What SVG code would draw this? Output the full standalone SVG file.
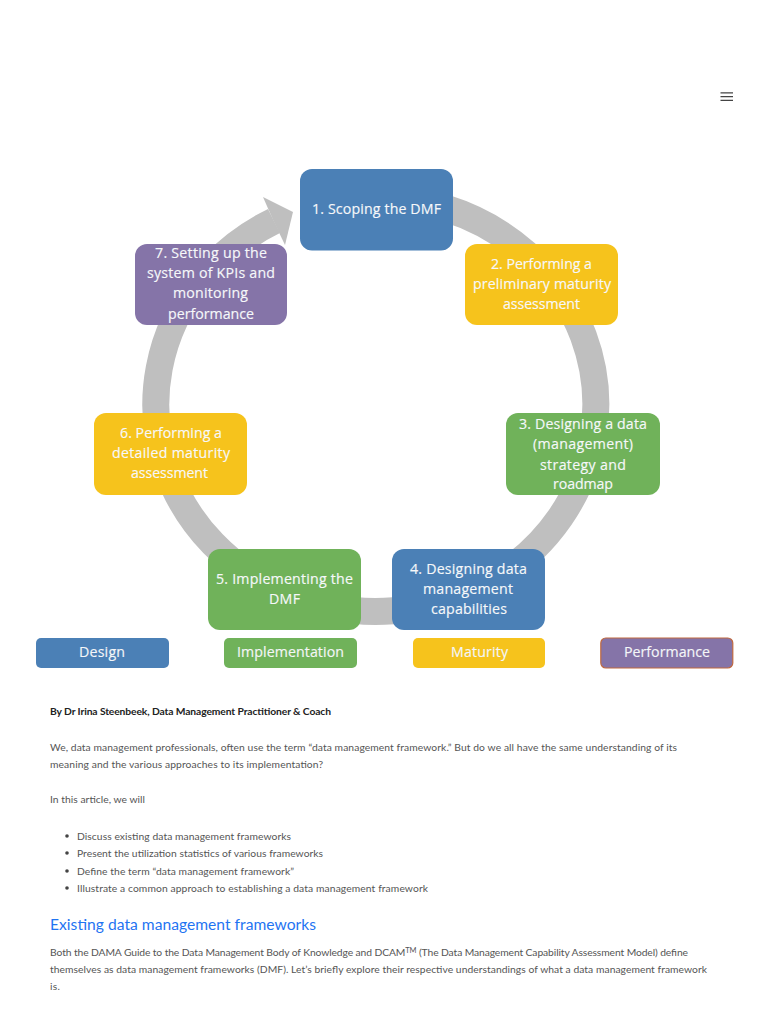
<svg xmlns="http://www.w3.org/2000/svg" width="768" height="1024" viewBox="0 0 768 1024">
<style>
.box{stroke:none}
.blue{fill:#4b80b6}
.yellow{fill:#f6c31c}
.green{fill:#70b25a}
.purple{fill:#8574a8}
.n{font-family:"Open Sans","Noto Sans",sans-serif;font-size:14.2px;fill:#f6f8fa;stroke:#f6f8fa;stroke-width:.15}
.l{font-family:"Open Sans","Noto Sans",sans-serif;font-size:14.2px;fill:#f4f6f8;stroke:#f4f6f8;stroke-width:.15}
.b{font-family:"Lato","Noto Sans",sans-serif;font-size:10.3px;fill:#555}
.s{font-family:"Lato","Noto Sans",sans-serif;font-size:10.3px;font-weight:700;fill:#222}
.h{font-family:"Lato","Noto Sans",sans-serif;font-size:15.6px;fill:#1f74f2}
.m{stroke:#444;stroke-width:1.2;fill:none}
</style>
<g id="menu"><path class="m" d="M720.500 92.800H733M720.500 96.600H733M720.500 100.400H733"/></g>
<g id="connectors">
<path d="M445 208A220 207 0 1 1 274 221" fill="none" stroke="#bfbfbf" stroke-width="27"/>
<polygon points="263,197 293,212 285,245 274,222" fill="#bfbfbf"/>
</g>
<g id="node1"><rect class="box blue" x="300" y="169" width="153" height="81.500" rx="12"/>
<text class="n" x="312" y="214" textLength="129">1. Scoping the DMF</text></g>
<g id="node2"><rect class="box yellow" x="465" y="244" width="153" height="81" rx="12"/>
<text class="n" x="491" y="269" textLength="101">2. Performing a</text>
<text class="n" x="473" y="289" textLength="138">preliminary maturity</text>
<text class="n" x="503" y="309" textLength="77">assessment</text></g>
<g id="node3"><rect class="box green" x="506" y="413" width="154" height="82" rx="12"/>
<text class="n" x="519" y="429" textLength="128">3. Designing a data</text>
<text class="n" x="533" y="449" textLength="100">(management)</text>
<text class="n" x="540" y="470" textLength="86">strategy and</text>
<text class="n" x="553" y="489" textLength="60">roadmap</text></g>
<g id="node4"><rect class="box blue" x="392" y="549" width="153" height="81" rx="12"/>
<text class="n" x="410" y="574" textLength="117">4. Designing data</text>
<text class="n" x="423" y="594" textLength="90">management</text>
<text class="n" x="431" y="614" textLength="76">capabilities</text></g>
<g id="node5"><rect class="box green" x="208" y="549" width="153" height="81" rx="12"/>
<text class="n" x="216" y="584" textLength="137">5. Implementing the</text>
<text class="n" x="269" y="604" textLength="31">DMF</text></g>
<g id="node6"><rect class="box yellow" x="94" y="413" width="153" height="82" rx="12"/>
<text class="n" x="120" y="438" textLength="102">6. Performing a</text>
<text class="n" x="112" y="458" textLength="118">detailed maturity</text>
<text class="n" x="131" y="478" textLength="77">assessment</text></g>
<g id="node7"><rect class="box purple" x="135" y="244" width="152" height="81" rx="12"/>
<text class="n" x="155" y="258" textLength="112">7. Setting up the</text>
<text class="n" x="147" y="278" textLength="128">system of KPIs and</text>
<text class="n" x="173" y="298" textLength="75">monitoring</text>
<text class="n" x="168" y="319" textLength="86">performance</text></g>
<g id="legend-design"><rect class="box blue" x="36" y="638" width="133" height="30" rx="5"/>
<text class="l" x="79" y="657" textLength="46">Design</text></g>
<g id="legend-implementation"><rect class="box green" x="224" y="638" width="133" height="30" rx="5"/>
<text class="l" x="237" y="657" textLength="107">Implementation</text></g>
<g id="legend-maturity"><rect class="box yellow" x="413" y="638" width="132" height="30" rx="5"/>
<text class="l" x="451" y="657" textLength="57">Maturity</text></g>
<g id="legend-performance"><rect class="purple" x="600.800" y="638" width="132" height="30" rx="5" stroke="#c0693f" stroke-width="1.200"/>
<text class="l" x="624" y="657" textLength="86">Performance</text></g>
<g id="article">
<text class="s" x="50" y="715" textLength="281">By Dr Irina Steenbeek, Data Management Practitioner &amp; Coach</text>
<text class="b" x="50" y="751" textLength="627">We, data management professionals, often use the term “data management framework.”  But do we all have the same understanding of its</text>
<text class="b" x="50" y="768" textLength="273">meaning and the various approaches to its implementation?</text>
<text class="b" x="50" y="803" textLength="95">In this article, we will</text>
<circle cx="67" cy="836" r="1.800" fill="#444"/><text class="b" x="77" y="840" textLength="214">Discuss existing data management frameworks</text>
<circle cx="67" cy="853" r="1.800" fill="#444"/><text class="b" x="77" y="857" textLength="246">Present the utilization statistics of various frameworks</text>
<circle cx="67" cy="871" r="1.800" fill="#444"/><text class="b" x="77" y="875" textLength="217">Define the term “data management framework”</text>
<circle cx="67" cy="888" r="1.800" fill="#444"/><text class="b" x="77" y="892" textLength="351">Illustrate a common approach to establishing a data management framework</text>
<text class="h" x="50" y="930" textLength="266">Existing data management frameworks</text>
<text class="b" x="50" y="956" textLength="638">Both the DAMA Guide to the Data Management Body of Knowledge and DCAM<tspan dy="-3" font-size="7.500">TM</tspan><tspan dy="3"> (The Data Management Capability Assessment Model) define</tspan></text>
<text class="b" x="50" y="973" textLength="657">themselves as data management frameworks (DMF). Let’s briefly explore their respective understandings of what a data management framework</text>
<text class="b" x="50" y="990" textLength="10">is.</text>
</g>
</svg>
